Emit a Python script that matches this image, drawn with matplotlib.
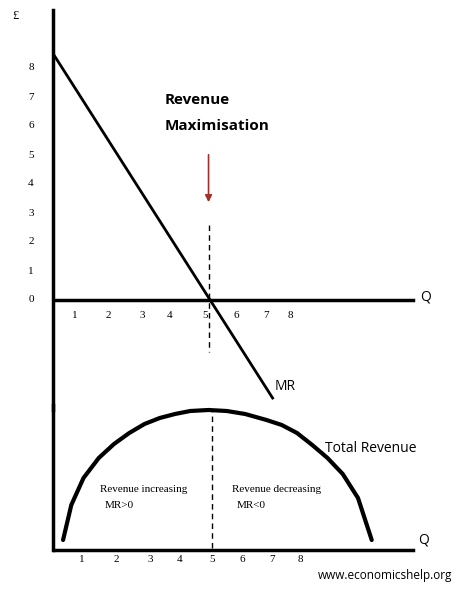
import matplotlib
matplotlib.use("Agg")
import matplotlib.pyplot as plt

W, H = 474, 590
# upper diagram data (Q units, £ units)
mr_q = [0.0, 7.2]
mr_p = [8.5, 8.5 - 1.65 * 7.2]
y_ticks = [0, 1, 2, 3, 4, 5, 6, 7, 8]
x_ticks = [1, 2, 3, 4, 5, 6, 7, 8]
# lower diagram: total revenue (relative units)
tr_q = [0.33, 0.6, 1, 1.5, 2, 2.5, 3, 3.5, 4, 4.5, 5.1, 5.7, 6.3, 7, 7.5, 8, 8.5, 9, 9.5, 10, 10.45]
tr_v = [10, 45, 72, 92, 106, 117, 126, 132, 136, 139, 140, 139, 136, 130, 125, 117, 105, 92, 76, 52, 10]

fig = plt.figure(figsize=(W/100, H/100), dpi=100)
def px(x, y):
    return x / W, 1 - y / H

xu = 30.5; yu = 29.0
# top axes: px x 53..474, y 10..410
at = fig.add_axes([53/W, (H-410)/H, (W-53)/W, 400/H])
at.set_xlim(0, (W-53)/xu); at.set_ylim(-110/yu, 290/yu)
at.axis('off')
at.plot([0, 0], [-110/yu, 290/yu], color='black', lw=2.5, clip_on=False)
at.plot([0, (413-53)/xu], [0, 0], color='black', lw=2.5)
at.plot(mr_q, mr_p, color='black', lw=2)
at.plot([5.1, 5.1], [75/yu, -52/yu], color='black', lw=1, ls=(0, (4, 3)))
at.annotate('', xy=(5.1, 95/yu), xytext=(5.1, 148/yu),
            arrowprops=dict(arrowstyle='-|>', color='#a0302a', lw=1.2, mutation_scale=10))

serif = 'Liberation Serif'
for v in y_ticks:
    fig.text(*px(31, 300 - v*yu), str(v), fontsize=8, family=serif, va='center', ha='center')
xp = [75, 108, 142, 170, 205, 236, 266, 290]
for v, x in zip(x_ticks, xp):
    fig.text(*px(x, 316), str(v), fontsize=8, family=serif, va='center', ha='center')
fig.text(*px(12, 16), '£', fontsize=9, family=serif, va='center')
fig.text(*px(420, 297), 'Q', fontsize=10, family='Open Sans', va='center')
fig.text(*px(165, 100), 'Revenue', fontsize=11, family='Open Sans', weight='bold', va='center')
fig.text(*px(165, 126), 'Maximisation', fontsize=11, family='Open Sans', weight='bold', va='center')
fig.text(*px(275, 386), 'MR', fontsize=10, family='Open Sans', va='center')

# bottom axes: px y 405..590, zero at 550
ab = fig.add_axes([53/W, 0, (W-53)/W, 185/H])
ab.set_xlim(0, (W-53)/xu); ab.set_ylim(-40, 145)
ab.axis('off')
ab.plot([0, 0], [0, 145], color='black', lw=2.5, clip_on=False)
ab.plot([0, (413-53)/xu], [0, 0], color='black', lw=2.5)
ab.plot(tr_q, tr_v, color='black', lw=3, solid_capstyle='round')
ab.plot([(212-53)/xu]*2, [2, 140], color='black', lw=1, ls=(0, (4, 3)))
xp2 = [82, 116, 150, 180, 212, 242, 272, 300]
for v, x in zip(x_ticks, xp2):
    fig.text(*px(x, 560), str(v), fontsize=8, family=serif, va='center', ha='center')
fig.text(*px(418, 540), 'Q', fontsize=10, family='Open Sans', va='center')
fig.text(*px(325, 449), 'Total Revenue', fontsize=10, family='Open Sans', va='center')
fig.text(*px(100, 490), 'Revenue increasing', fontsize=8, family=serif, va='center')
fig.text(*px(105, 505), 'MR>0', fontsize=8, family=serif, va='center')
fig.text(*px(232, 490), 'Revenue decreasing', fontsize=8, family=serif, va='center')
fig.text(*px(237, 505), 'MR<0', fontsize=8, family=serif, va='center')
fig.text(*px(452, 575), 'www.economicshelp.org', fontsize=8.5, family='Open Sans', va='center', ha='right')

fig.savefig('out.png', dpi=100)
